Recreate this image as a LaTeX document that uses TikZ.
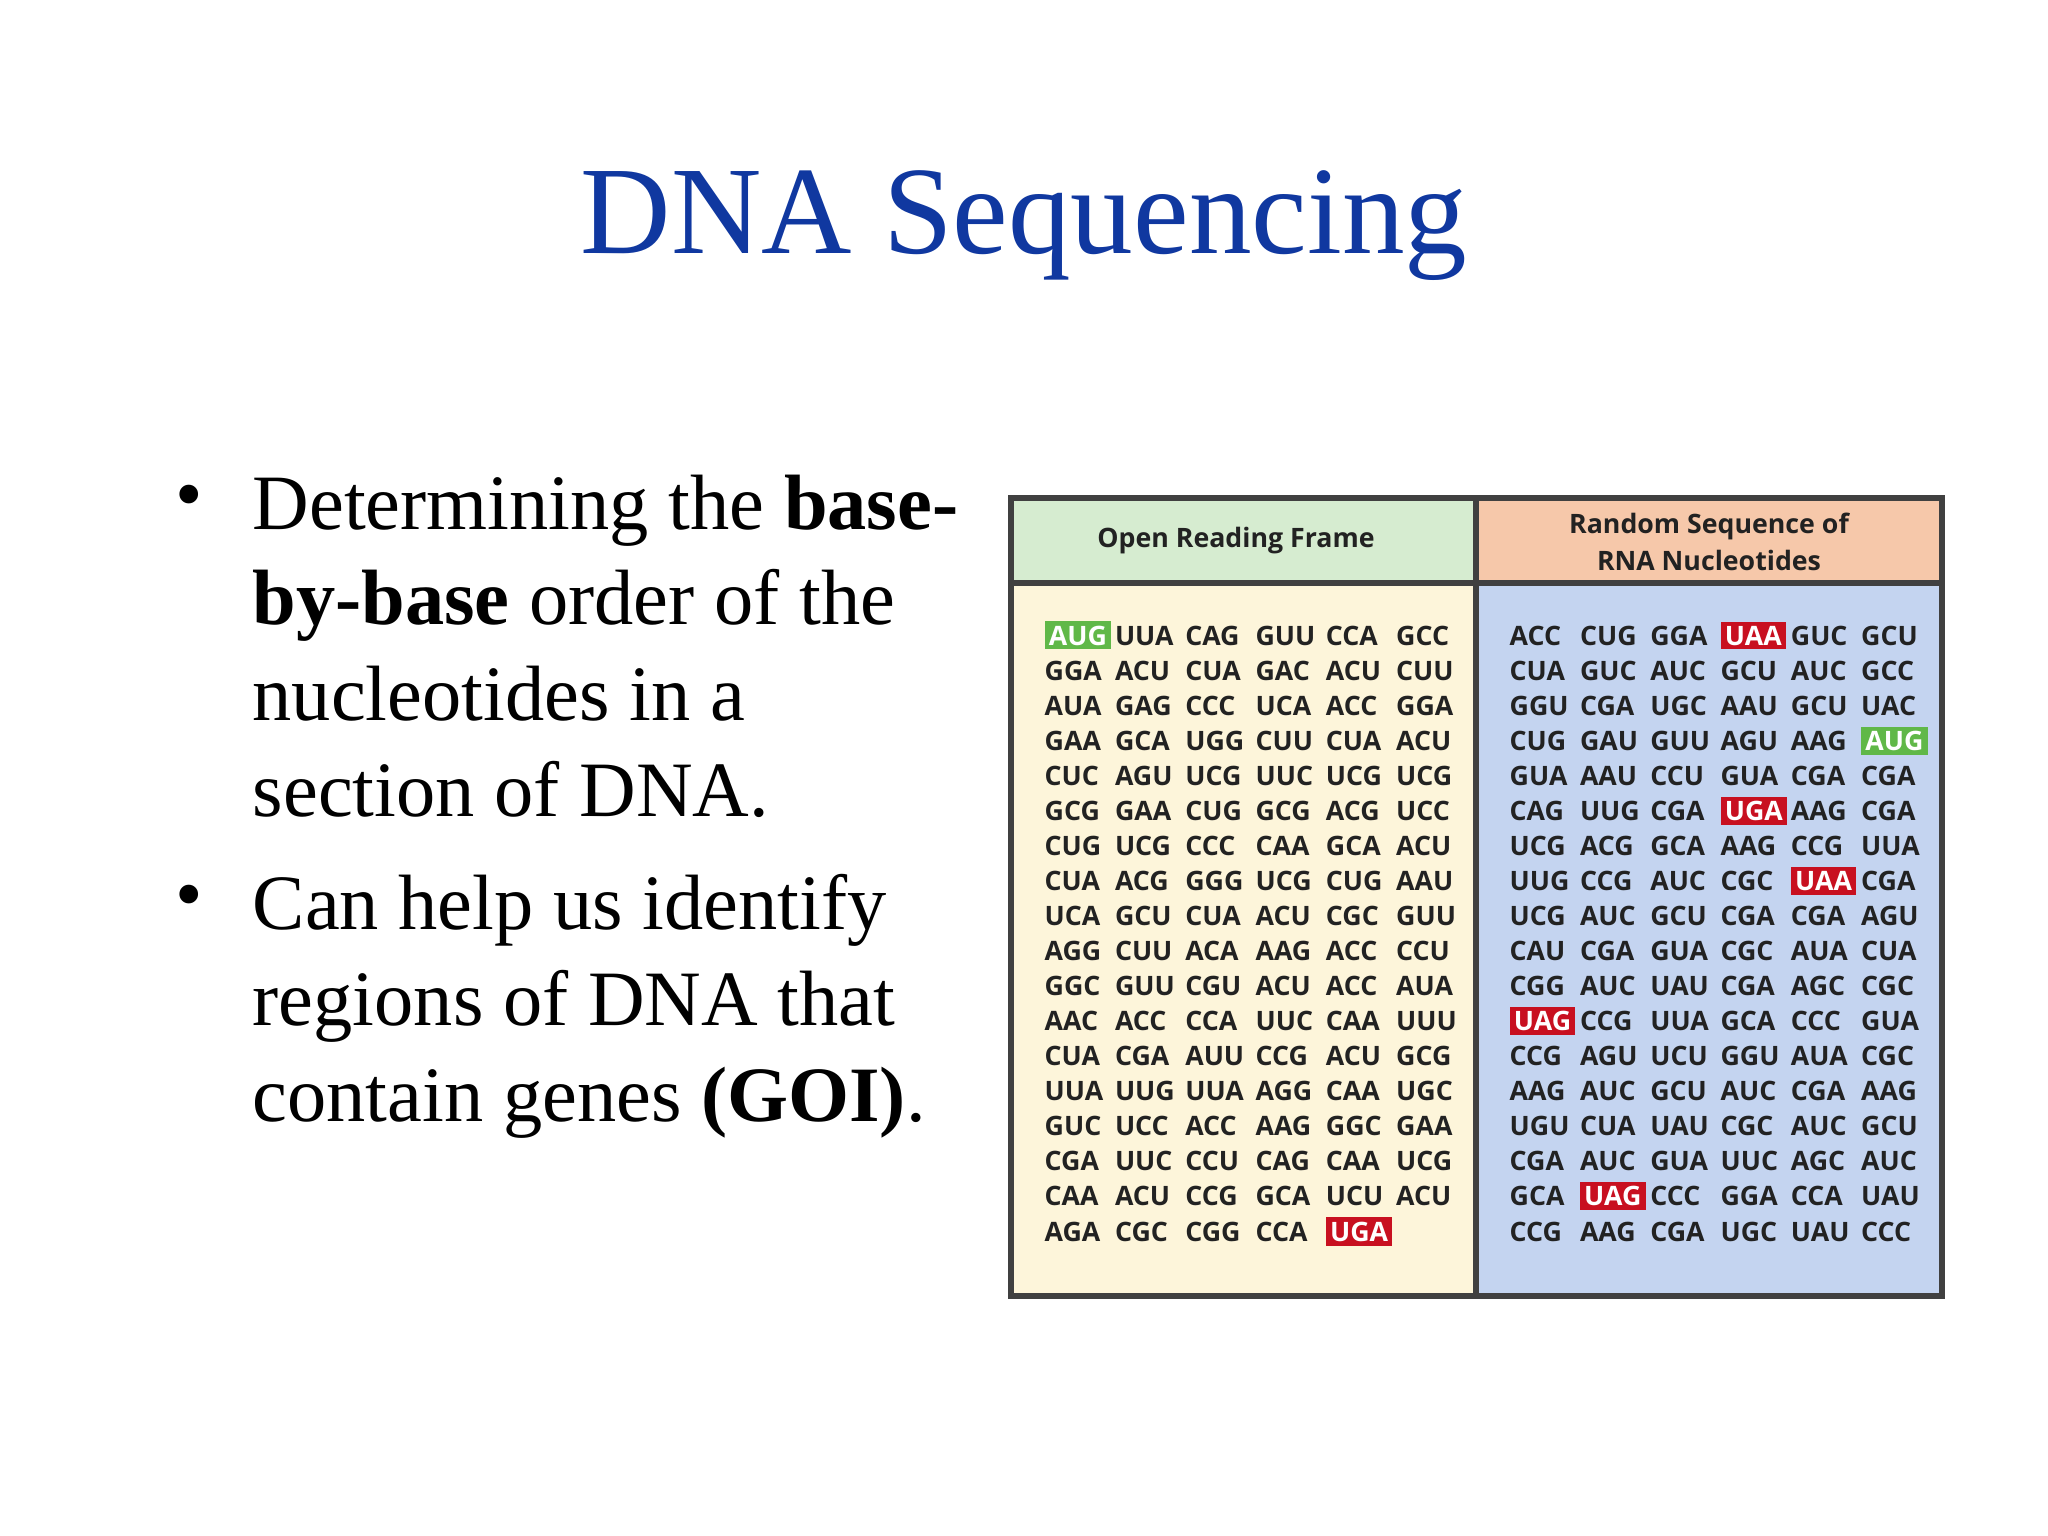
\documentclass[tikz,border=0pt]{standalone}
\usepackage{fontspec}
\setmainfont{Liberation Serif}
\newfontfamily\codonfont{Open Sans}
\definecolor{titleblue}{RGB}{16,56,160}
\definecolor{grn}{RGB}{96,184,72}
\definecolor{redc}{RGB}{200,16,32}
\definecolor{hdgreen}{RGB}{214,236,208}
\definecolor{hdsalmon}{RGB}{246,200,170}
\definecolor{bodyyellow}{RGB}{253,245,218}
\definecolor{bodyblue}{RGB}{196,212,240}
\definecolor{codontext}{RGB}{34,34,34}
\newcommand\G[1]{{\setlength\fboxsep{1.2pt}\colorbox{grn}{\textcolor{white}{#1}}}}
\newcommand\R[1]{{\setlength\fboxsep{1.2pt}\colorbox{redc}{\textcolor{white}{#1}}}}
\tikzset{
  codon/.style={anchor=base west,inner sep=0pt,font=\codonfont\bfseries\fontsize{7.6}{9}\selectfont,text=codontext},
  hdr/.style={align=center,font=\codonfont\bfseries\fontsize{7.6}{10.5}\selectfont,text=codontext},
  bul/.style={anchor=north west,align=left,font=\fontsize{22.3}{27.2}\selectfont,inner sep=0pt}
}
\begin{document}
\begin{tikzpicture}[x=0.01cm,y=-0.01cm]
\useasboundingbox[fill=white] (0,0) rectangle (2048,1536);
\node[text=titleblue,font=\fontsize{35.6}{42}\selectfont] (title) at (1024,226) {DNA Sequencing};
% bullets
\node[anchor=north,font=\fontsize{22.3}{27}\selectfont,inner sep=0pt] (b1) at (189,484) {\textbullet};
\node[bul] (t1) at (252,474) {Determining the \textbf{base-}\\\textbf{by-base} order of the\\nucleotides in a\\section of DNA.};
\node[anchor=north,font=\fontsize{22.3}{27}\selectfont,inner sep=0pt] (b2) at (189,884) {\textbullet};
\node[bul] (t2) at (252,874) {Can help us identify\\regions of DNA that\\contain genes \textbf{(GOI)}.};
% table
\fill[hdgreen] (1011,498) rectangle (1476,583);
\fill[hdsalmon] (1476,498) rectangle (1942,583);
\fill[bodyyellow] (1011,583) rectangle (1476,1296);
\fill[bodyblue] (1476,583) rectangle (1942,1296);
\draw[line width=1.6pt,draw=black!75] (1011,498) rectangle (1942,1296);
\draw[line width=1.6pt,draw=black!75] (1011,583) -- (1942,583);
\draw[line width=1.6pt,draw=black!75] (1476,498) -- (1476,1296);
\node[hdr] (h1) at (1236,541) {Open Reading Frame};
\node[hdr] (h2) at (1709,542) {Random Sequence of\\RNA Nucleotides};
\foreach \i/\r in {
1/{\G{AUG},UUA,CAG,GUU,CCA,GCC},
2/{GGA,ACU,CUA,GAC,ACU,CUU},
3/{AUA,GAG,CCC,UCA,ACC,GGA},
4/{GAA,GCA,UGG,CUU,CUA,ACU},
5/{CUC,AGU,UCG,UUC,UCG,UCG},
6/{GCG,GAA,CUG,GCG,ACG,UCC},
7/{CUG,UCG,CCC,CAA,GCA,ACU},
8/{CUA,ACG,GGG,UCG,CUG,AAU},
9/{UCA,GCU,CUA,ACU,CGC,GUU},
10/{AGG,CUU,ACA,AAG,ACC,CCU},
11/{GGC,GUU,CGU,ACU,ACC,AUA},
12/{AAC,ACC,CCA,UUC,CAA,UUU},
13/{CUA,CGA,AUU,CCG,ACU,GCG},
14/{UUA,UUG,UUA,AGG,CAA,UGC},
15/{GUC,UCC,ACC,AAG,GGC,GAA},
16/{CGA,UUC,CCU,CAG,CAA,UCG},
17/{CAA,ACU,CCG,GCA,UCU,ACU},
18/{AGA,CGC,CGG,CCA,\R{UGA}}}{
  \foreach \c [count=\j] in \r {
    \node[codon] (L\i-\j) at ({1044+(\j-1)*70.3},{645+(\i-1)*35.06}) {\c};
  }
}
\foreach \i/\r in {
1/{ACC,CUG,GGA,\R{UAA},GUC,GCU},
2/{CUA,GUC,AUC,GCU,AUC,GCC},
3/{GGU,CGA,UGC,AAU,GCU,UAC},
4/{CUG,GAU,GUU,AGU,AAG,\G{AUG}},
5/{GUA,AAU,CCU,GUA,CGA,CGA},
6/{CAG,UUG,CGA,\R{UGA},AAG,CGA},
7/{UCG,ACG,GCA,AAG,CCG,UUA},
8/{UUG,CCG,AUC,CGC,\R{UAA},CGA},
9/{UCG,AUC,GCU,CGA,CGA,AGU},
10/{CAU,CGA,GUA,CGC,AUA,CUA},
11/{CGG,AUC,UAU,CGA,AGC,CGC},
12/{\R{UAG},CCG,UUA,GCA,CCC,GUA},
13/{CCG,AGU,UCU,GGU,AUA,CGC},
14/{AAG,AUC,GCU,AUC,CGA,AAG},
15/{UGU,CUA,UAU,CGC,AUC,GCU},
16/{CGA,AUC,GUA,UUC,AGC,AUC},
17/{GCA,\R{UAG},CCC,GGA,CCA,UAU},
18/{CCG,AAG,CGA,UGC,UAU,CCC}}{
  \foreach \c [count=\j] in \r {
    \node[codon] (R\i-\j) at ({1509+(\j-1)*70.3},{645+(\i-1)*35.06}) {\c};
  }
}
\end{tikzpicture}
\end{document}
